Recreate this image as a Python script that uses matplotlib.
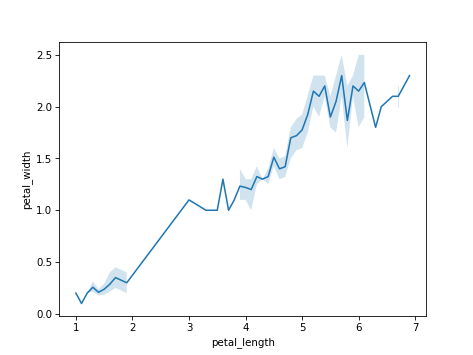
import numpy as np
import matplotlib
matplotlib.use("Agg")
import matplotlib.pyplot as plt

nan = np.nan

# mean petal_width per petal_length, with the 95% band (nan where only one sample)
petal_length = [1.0, 1.1, 1.2, 1.3, 1.4, 1.5, 1.6, 1.7, 1.9,
                3.0, 3.3, 3.5, 3.6, 3.7, 3.8, 3.9, 4.0, 4.1, 4.2, 4.3,
                4.4, 4.5, 4.6, 4.7, 4.8, 4.9, 5.0, 5.1, 5.2, 5.3, 5.4,
                5.5, 5.6, 5.7, 5.8, 5.9, 6.0, 6.1, 6.3, 6.4, 6.6, 6.7, 6.9]
width_mean = [0.2, 0.1, 0.2, 0.257, 0.208, 0.238, 0.286, 0.35, 0.3,
              1.1, 1.0, 1.0, 1.3, 1.0, 1.1, 1.233, 1.22, 1.2, 1.325, 1.3,
              1.325, 1.5125, 1.4, 1.42, 1.7, 1.72, 1.775, 1.925, 2.15, 2.1, 2.2,
              1.9, 2.05, 2.3, 1.867, 2.2, 2.15, 2.233, 1.8, 2.0, 2.1, 2.1, 2.3]
width_lo = [nan, nan, 0.2, 0.214, 0.177, 0.185, 0.214, 0.25, 0.2,
            nan, 1.0, 1.0, nan, nan, nan, 1.1, 1.1, 1.0, 1.25, 1.3,
            1.25, 1.425, 1.3, 1.32, 1.5, 1.58, 1.6, 1.75, 2.0, 1.9, 2.1,
            1.8, 1.75, 2.1, 1.6, 2.1, 1.8, 1.9, nan, nan, nan, 2.0, nan]
width_hi = [nan, nan, 0.2, 0.314, 0.238, 0.292, 0.4, 0.45, 0.4,
            nan, 1.0, 1.0, nan, nan, nan, 1.4, 1.3, 1.3, 1.425, 1.3,
            1.4, 1.6, 1.5, 1.52, 1.8, 1.88, 1.925, 2.11, 2.3, 2.3, 2.3,
            2.1, 2.3, 2.5, 2.2, 2.3, 2.5, 2.5, nan, nan, nan, 2.2, nan]

fig, ax = plt.subplots(figsize=(6.4, 4.8), dpi=74)
ax.plot(petal_length, width_mean, color="#1f77b4", lw=1.5)
ax.fill_between(petal_length, width_lo, width_hi, color="#1f77b4", alpha=0.2, lw=0)
# the lone band at 6.7 shows as a thin sliver
ax.plot([6.7, 6.7], [width_lo[-2], width_hi[-2]], color="#1f77b4", alpha=0.2, lw=0.8)
ax.set_xlabel("petal_length")
ax.set_ylabel("petal_width")
fig.savefig("out.png")
